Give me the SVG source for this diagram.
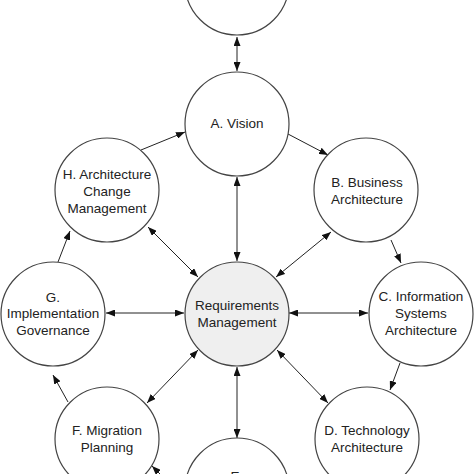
<svg xmlns="http://www.w3.org/2000/svg" width="474" height="474" viewBox="0 0 474 474">
<defs>
<marker id="ah" viewBox="0 0 9 7" refX="9" refY="3.5" markerWidth="9" markerHeight="7" markerUnits="userSpaceOnUse" orient="auto-start-reverse">
<path d="M0,0 L9,3.5 L0,7 z" fill="#111"/>
</marker>
<style>
.n{fill:#fff;stroke:#444;stroke-width:1.2}
.r{fill:#efefef}
.t{font-family:"Liberation Sans",Arial,sans-serif;font-size:13.5px;fill:#222;text-anchor:middle}
.c line{stroke:#222;stroke-width:1}
</style>
</defs>
<rect width="474" height="474" fill="#fff"/>
<g class="c" id="connectors">
<line x1="237" y1="37" x2="237" y2="71" marker-start="url(#ah)" marker-end="url(#ah)"/>
<line x1="237" y1="177" x2="237" y2="261" marker-start="url(#ah)" marker-end="url(#ah)"/>
<line x1="288" y1="134" x2="328" y2="155" marker-end="url(#ah)"/>
<line x1="141" y1="150" x2="185" y2="132" marker-end="url(#ah)"/>
<line x1="391" y1="240" x2="401" y2="263" marker-end="url(#ah)"/>
<line x1="400" y1="363" x2="390" y2="390" marker-end="url(#ah)"/>
<line x1="58" y1="262" x2="70" y2="231" marker-end="url(#ah)"/>
<line x1="68" y1="402" x2="53" y2="375" marker-end="url(#ah)"/>
<line x1="163" y1="477" x2="152" y2="466" marker-end="url(#ah)"/>
<line x1="148" y1="227" x2="198" y2="277" marker-start="url(#ah)" marker-end="url(#ah)"/>
<line x1="106" y1="313" x2="184" y2="313" marker-start="url(#ah)" marker-end="url(#ah)"/>
<line x1="331" y1="232" x2="276" y2="277" marker-start="url(#ah)" marker-end="url(#ah)"/>
<line x1="289" y1="313" x2="368" y2="313" marker-start="url(#ah)" marker-end="url(#ah)"/>
<line x1="198" y1="350" x2="147" y2="403" marker-start="url(#ah)" marker-end="url(#ah)"/>
<line x1="277" y1="350" x2="328" y2="403" marker-start="url(#ah)" marker-end="url(#ah)"/>
<line x1="237" y1="367" x2="237" y2="438" marker-start="url(#ah)" marker-end="url(#ah)"/>
</g>
<g id="prelim"><circle class="n" cx="237" cy="-17" r="52"/></g>
<g id="A"><circle class="n" cx="237" cy="124" r="52"/><text class="t" x="237" y="128">A. Vision</text></g>
<g id="B"><circle class="n" cx="366" cy="190" r="52"/><text class="t" x="367" y="187">B. Business</text><text class="t" x="367" y="204">Architecture</text></g>
<g id="C"><circle class="n" cx="421" cy="314" r="52"/><text class="t" x="421" y="301">C. Information</text><text class="t" x="421" y="318">Systems</text><text class="t" x="421" y="335">Architecture</text></g>
<g id="D"><circle class="n" cx="367" cy="439" r="52"/><text class="t" x="367" y="435">D. Technology</text><text class="t" x="367" y="452">Architecture</text></g>
<g id="E"><circle class="n" cx="237" cy="490" r="52"/><text class="t" x="237" y="481">E.</text></g>
<g id="F"><circle class="n" cx="107" cy="439" r="52"/><text class="t" x="107" y="435">F. Migration</text><text class="t" x="107" y="452">Planning</text></g>
<g id="G"><circle class="n" cx="53" cy="314" r="52"/><text class="t" x="53" y="302">G.</text><text class="t" x="53" y="318">Implementation</text><text class="t" x="53" y="335">Governance</text></g>
<g id="H"><circle class="n" cx="107" cy="190" r="52"/><text class="t" x="107" y="179">H. Architecture</text><text class="t" x="107" y="196">Change</text><text class="t" x="107" y="213">Management</text></g>
<g id="R"><circle class="n r" cx="237" cy="314" r="52"/><text class="t" x="237" y="310">Requirements</text><text class="t" x="237" y="327">Management</text></g>
</svg>
